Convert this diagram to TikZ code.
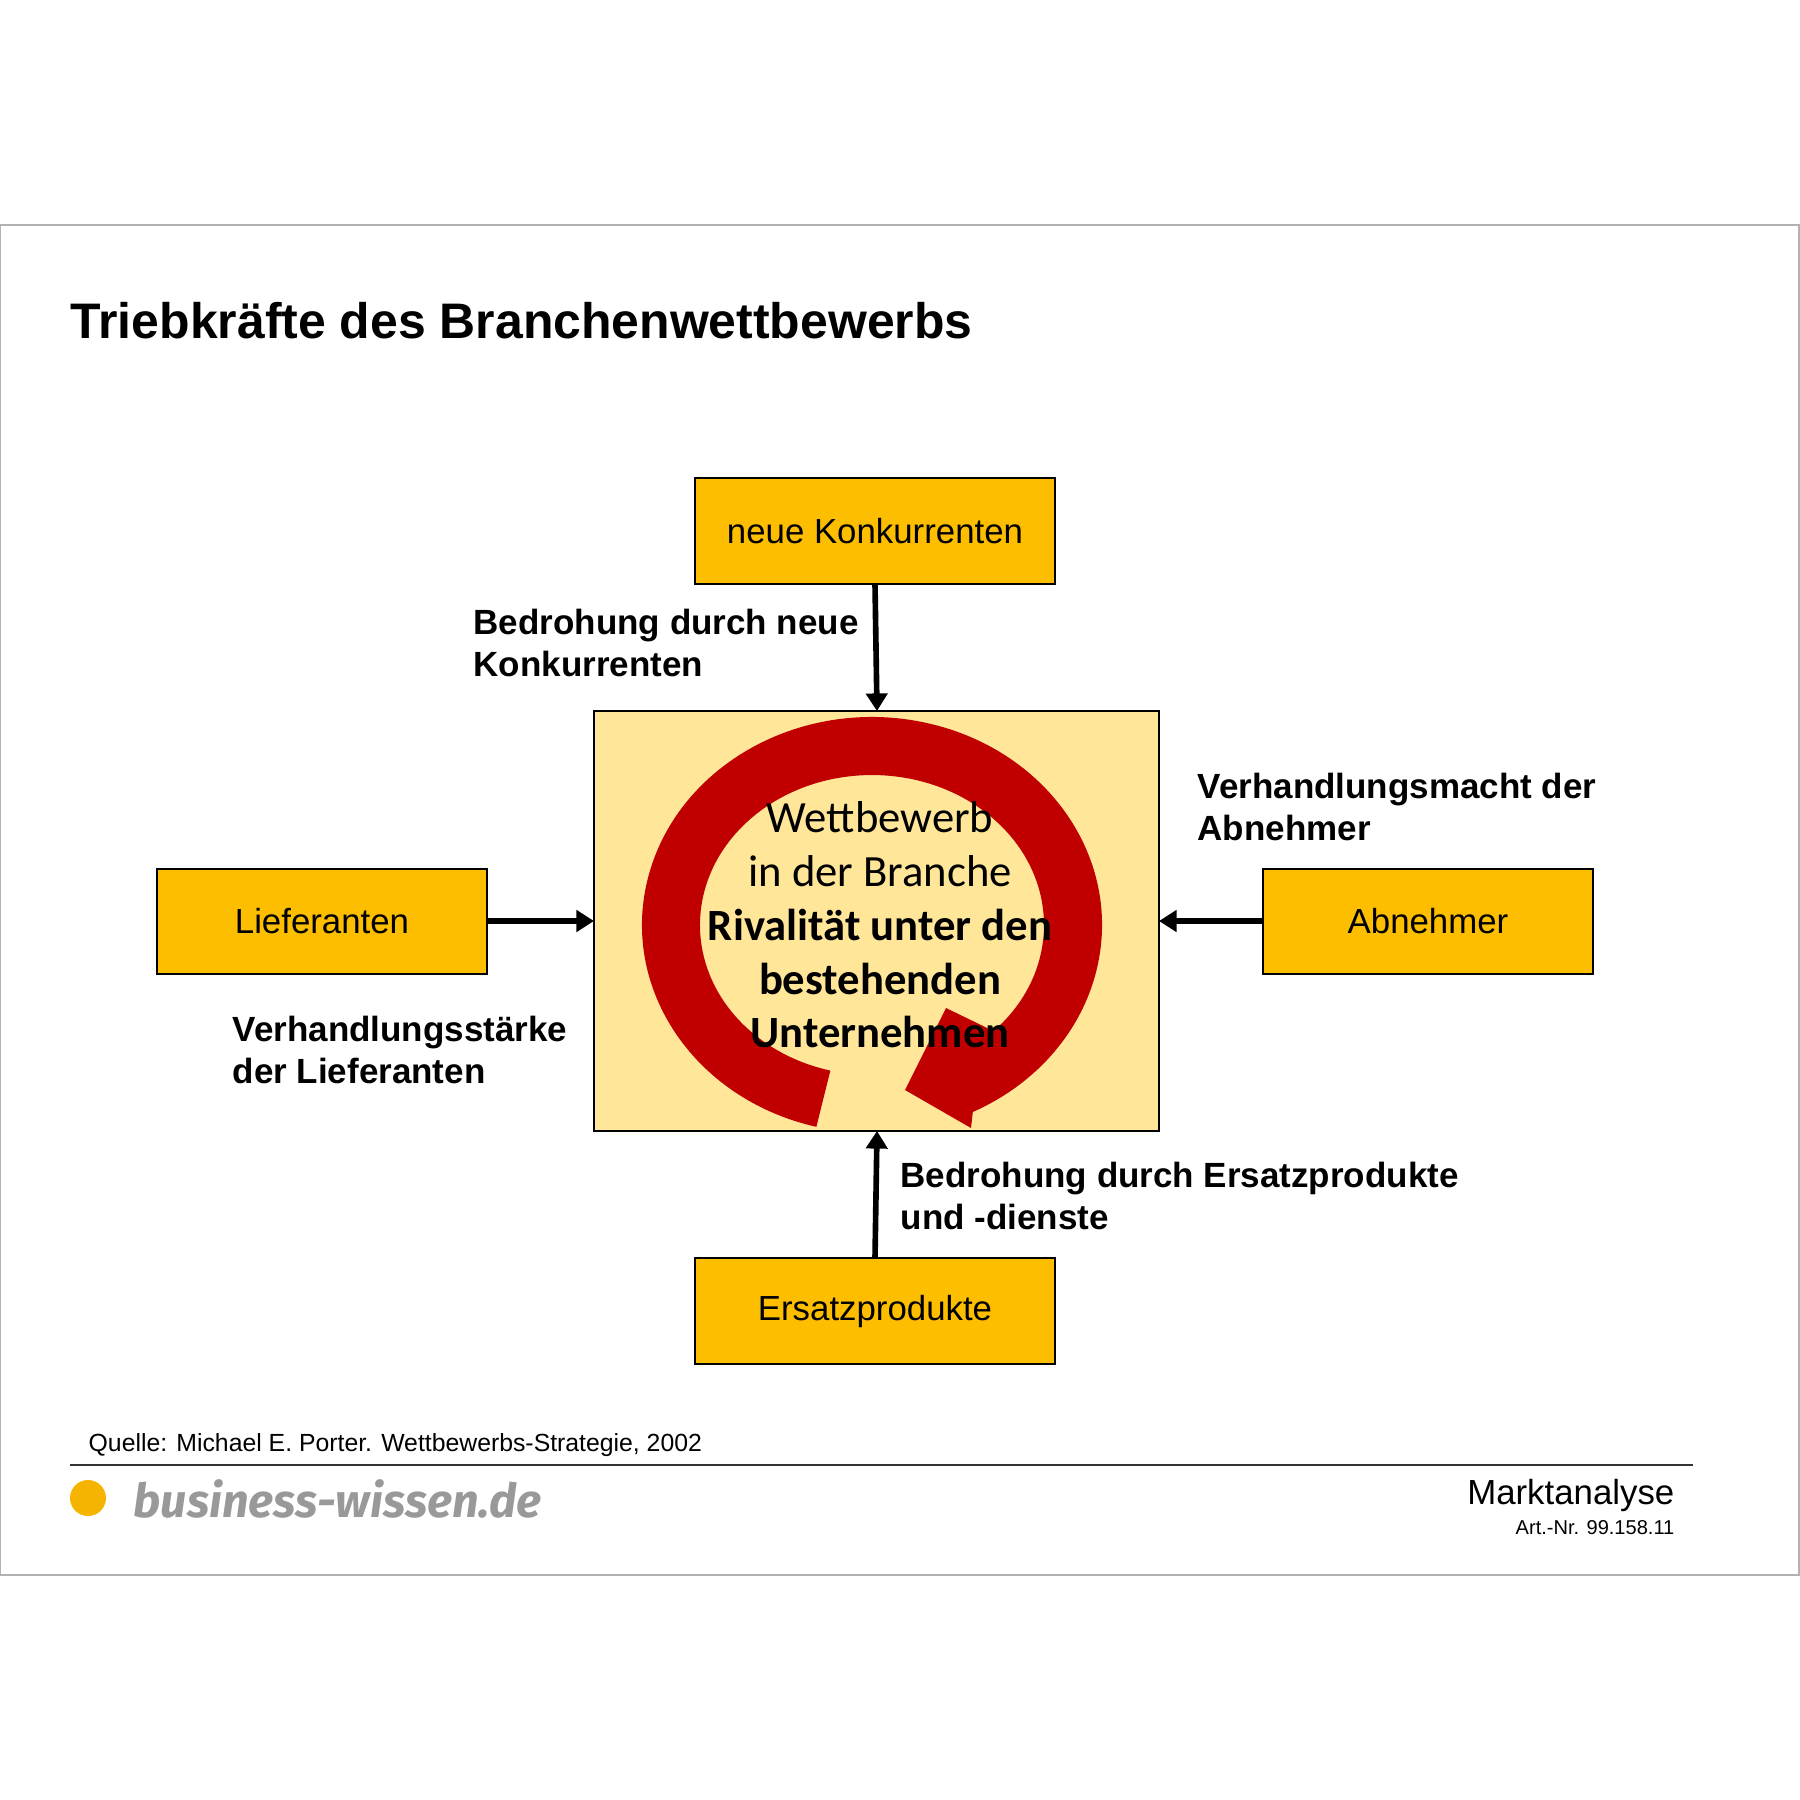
\documentclass[tikz,border=0pt]{standalone}
\usepackage{fontspec}
\setmainfont{Liberation Sans}
\newfontfamily\calfont{Carlito}
\newfontfamily\logofont{Fira Sans}
\usetikzlibrary{arrows.meta}
\definecolor{boxorange}{HTML}{FDBE00}
\definecolor{paleyellow}{HTML}{FFE699}
\definecolor{arrowred}{HTML}{C00000}
\definecolor{dotorange}{HTML}{F4B400}
\begin{document}
\begin{tikzpicture}[x=0.01cm, y=-0.01cm]
  \tikzset{
    forcebox/.style={draw, thick, fill=boxorange},
    boxtext/.style={font=\fontsize{9.9}{11}\selectfont},
    forcelabel/.style={anchor=north west, inner sep=0pt, align=left,
      font=\fontsize{9.95}{12}\selectfont\bfseries},
    forcearrow/.style={line width=1.6pt, -{Triangle[length=5pt,width=6pt]}},
  }
  \useasboundingbox (0,0) rectangle (1800,1800);
  \draw[gray!60] (0,225) rectangle (1799,1575);

  \node[anchor=west, inner sep=0pt, font=\fontsize{14.2}{16}\selectfont\bfseries]
    (title) at (70,321) {Triebkräfte des Branchenwettbewerbs};

  % boxes
  \draw[forcebox] (695,478) rectangle (1055,584);
  \node[boxtext] (nk) at (875,531) {neue Konkurrenten};
  \draw[forcebox] (157,869) rectangle (487,974);
  \node[boxtext] (lf) at (322,921) {Lieferanten};
  \draw[forcebox] (1263,869) rectangle (1593,974);
  \node[boxtext] (ab) at (1428,921) {Abnehmer};
  \draw[forcebox] (695,1258) rectangle (1055,1364);
  \node[boxtext] (ep) at (875,1311) {Ersatzprodukte};
  \draw[thick, fill=paleyellow] (594,711) rectangle (1159,1131);

  % circular arrow
  \fill[arrowred] (872,925) ++(104:230 and 208)
    arc[start angle=104, end angle=424, x radius=230, y radius=208]
    -- (971,1128) -- (905,1090) -- (946,1008) -- (993.6,1031.1)
    arc[start angle=405, end angle=104, x radius=172, y radius=150] -- cycle;

  \node[align=center, font=\calfont\fontsize{12.7}{15.3}\selectfont] (rival) at (880,925)
    {Wettbewerb\\in der Branche\\\bfseries Rivalität unter den\\\bfseries bestehenden\\\bfseries Unternehmen};

  % arrows
  \draw[forcearrow] (875,584) -- (877,711);
  \draw[forcearrow] (487,921) -- (594,921);
  \draw[forcearrow] (1263,921) -- (1159,921);
  \draw[forcearrow] (875,1258) -- (877,1131);

  \node[forcelabel] (l-nk) at (473,608) {Bedrohung durch neue\\Konkurrenten};
  \node[forcelabel] (l-ab) at (1197,772) {Verhandlungsmacht der\\Abnehmer};
  \node[forcelabel] (l-lf) at (232,1015) {Verhandlungsstärke\\der Lieferanten};
  \node[forcelabel] (l-ep) at (900,1161) {Bedrohung durch Ersatzprodukte\\und -dienste};

  % footer
  \node[anchor=west, inner sep=0pt, font=\fontsize{7.05}{8}\selectfont] (src) at (88,1445)
    {Quelle: Michael E. Porter. Wettbewerbs-Strategie, 2002};
  \draw[thick, black!80] (70,1465) -- (1693,1465);
  \fill[dotorange] (88,1498) circle (18);
  \node[anchor=west, inner sep=0pt, text=black!40,
    font=\logofont\fontsize{13.3}{15}\selectfont\bfseries\itshape] (logo) at (133,1499)
    {business-wissen.de};
  \node[anchor=east, inner sep=0pt, font=\fontsize{9.9}{11}\selectfont] (mk) at (1675,1495) {Marktanalyse};
  \node[anchor=east, inner sep=0pt, font=\fontsize{5.7}{7}\selectfont] (art) at (1675,1528) {Art.-Nr. 99.158.11};
\end{tikzpicture}
\end{document}
